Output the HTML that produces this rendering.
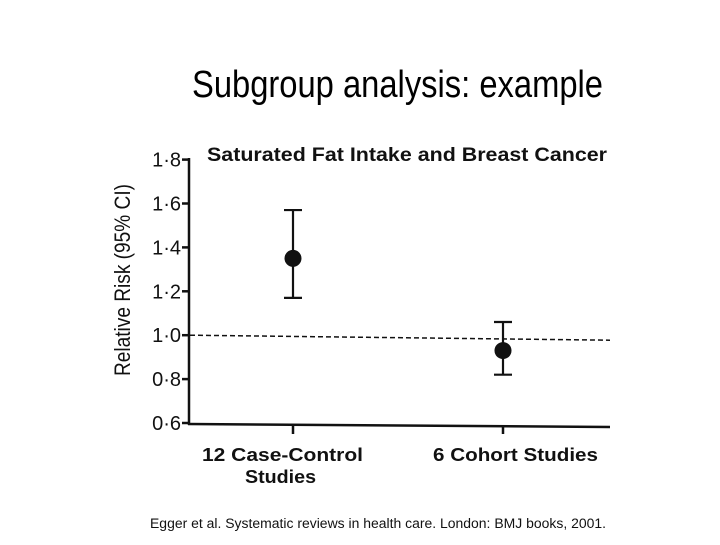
<!DOCTYPE html>
<html><head><meta charset="utf-8"><style>
body{margin:0;background:#fff;width:720px;height:540px;overflow:hidden;font-family:"Liberation Sans",sans-serif}
</style></head><body>
<svg width="720" height="540">
<text x="192" y="97" font-size="38" textLength="411" lengthAdjust="spacingAndGlyphs">Subgroup analysis: example</text>
<text x="207" y="161" font-size="19" font-weight="bold" fill="#111" textLength="400" lengthAdjust="spacingAndGlyphs">Saturated Fat Intake and Breast Cancer</text>
<text transform="translate(130 376) rotate(-90)" font-size="22" fill="#111" textLength="192" lengthAdjust="spacingAndGlyphs">Relative Risk (95% CI)</text>
<g id="axes" stroke="#111" stroke-width="2.5" fill="none"></g>
<g id="marks"></g>
<text x="202" y="461" font-size="18" font-weight="bold" fill="#111" textLength="161" lengthAdjust="spacingAndGlyphs">12 Case-Control</text>
<text x="245" y="483" font-size="18" font-weight="bold" fill="#111" textLength="71" lengthAdjust="spacingAndGlyphs">Studies</text>
<text x="433" y="461" font-size="18" font-weight="bold" fill="#111" textLength="165" lengthAdjust="spacingAndGlyphs">6 Cohort Studies</text>
<text x="150" y="528" font-size="13.5" fill="#111" textLength="456" lengthAdjust="spacingAndGlyphs">Egger et al. Systematic reviews in health care. London: BMJ books, 2001.</text>
</svg>
<script>
const categories=["12 Case-Control Studies","6 Cohort Studies"];
const estimates=[1.35,0.93];
const lower=[1.17,0.82];
const upper=[1.57,1.06];
const ticks=[0.6,0.8,1.0,1.2,1.4,1.6,1.8];
const tickLabels=["0·6","0·8","1·0","1·2","1·4","1·6","1·8"];
const NS="http://www.w3.org/2000/svg";
const y=v=>423-(v-0.6)*219.5;
const xPos=[293,503];
const x=i=>xPos[i];
function mk(t,a,p){const e=document.createElementNS(NS,t);for(const k in a)e.setAttribute(k,a[k]);p.appendChild(e);return e;}
const ax=document.getElementById('axes'),mg=document.getElementById('marks');
let e=mk('line',{x1:189,y1:158,x2:189,y2:425},ax);


e=mk('line',{x1:188,y1:424,x2:610,y2:427},ax);


ticks.forEach((t,i)=>{
 let l=mk('line',{x1:182,y1:y(t),x2:189,y2:y(t)},ax);
 
 
 let tx=mk('text',{x:181,y:y(t)+7,'text-anchor':'end','font-size':20,fill:'#111',stroke:'none'},mg);
 tx.textContent=tickLabels[i];
 
 
});
categories.forEach((c,i)=>{
 let l=mk('line',{x1:x(i),y1:426,x2:x(i),y2:434},ax);
 
 
});
let d=mk('line',{x1:190,y1:y(1.0),x2:610,y2:y(1.0)+5,stroke:'#111','stroke-width':1.5,'stroke-dasharray':'5,3'},mg);


categories.forEach((c,i)=>{
 const g=mk('g',{stroke:'#111','stroke-width':2.2},mg);
 
 
 mk('line',{x1:x(i),y1:y(upper[i]),x2:x(i),y2:y(lower[i])},g);
 mk('line',{x1:x(i)-9,y1:y(upper[i]),x2:x(i)+9,y2:y(upper[i])},g);
 mk('line',{x1:x(i)-9,y1:y(lower[i]),x2:x(i)+9,y2:y(lower[i])},g);
 const p=mk('circle',{cx:x(i),cy:y(estimates[i]),r:8.5,fill:'#111'},mg);
 
 
});
</script>
</body></html>
